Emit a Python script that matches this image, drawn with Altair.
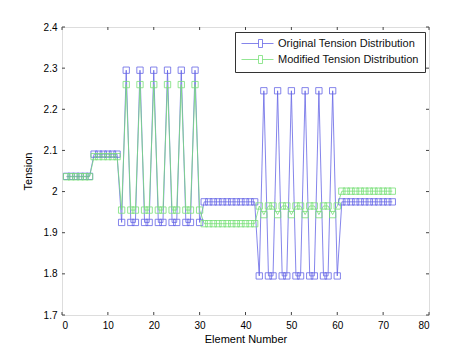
import altair as alt
import pandas as pd

elements = list(range(1, 73))
original = [
    2.037, 2.037, 2.037, 2.037, 2.037, 2.037,
    2.091, 2.091, 2.091, 2.091, 2.091, 2.091,
    1.925, 2.295, 1.925, 1.925, 2.295, 1.925, 1.925, 2.295, 1.925,
    1.925, 2.295, 1.925, 1.925, 2.295, 1.925, 1.925, 2.295, 1.925,
    1.975, 1.975, 1.975, 1.975, 1.975, 1.975, 1.975, 1.975, 1.975, 1.975, 1.975, 1.975,
    1.795, 2.245, 1.795, 1.795, 2.245, 1.795, 1.795, 2.245, 1.795,
    1.795, 2.245, 1.795, 1.795, 2.245, 1.795, 1.795, 2.245, 1.795,
    1.975, 1.975, 1.975, 1.975, 1.975, 1.975, 1.975, 1.975, 1.975, 1.975, 1.975, 1.975,
]
modified = [
    2.036, 2.036, 2.036, 2.036, 2.036, 2.036,
    2.085, 2.085, 2.085, 2.085, 2.085, 2.085,
    1.955, 2.260, 1.955, 1.955, 2.260, 1.955, 1.955, 2.260, 1.955,
    1.955, 2.260, 1.955, 1.955, 2.260, 1.955, 1.955, 2.260, 1.955,
    1.922, 1.922, 1.922, 1.922, 1.922, 1.922, 1.922, 1.922, 1.922, 1.922, 1.922, 1.922,
    1.965, 1.944, 1.965, 1.965, 1.944, 1.965, 1.965, 1.944, 1.965,
    1.965, 1.944, 1.965, 1.965, 1.944, 1.965, 1.965, 1.944, 1.965,
    2.001, 2.001, 2.001, 2.001, 2.001, 2.001, 2.001, 2.001, 2.001, 2.001, 2.001, 2.001,
]
series_names = ["Original Tension Distribution", "Modified Tension Distribution"]
series_colors = ["#6666e6", "#77e077"]
x_ticks = [0, 10, 20, 30, 40, 50, 60, 70, 80]
y_ticks = [1.7, 1.8, 1.9, 2.0, 2.1, 2.2, 2.3, 2.4]

W, H = 367, 288

df = pd.DataFrame({
    "Element": elements * 2,
    "Tension": original + modified,
    "Series": [series_names[0]] * len(elements) + [series_names[1]] * len(elements),
    "order": [0] * len(elements) + [1] * len(elements),
})

xscale = alt.Scale(domain=[0, 80], nice=False)
yscale = alt.Scale(domain=[1.7, 2.4], nice=False, zero=False)

FONT = "Liberation Sans"

# line segment with a hollow square in the middle (unit = 5 px with symbolSize 100)
legend_path = "M-1,0H2.4M3.2,0H5.4M2.4,-0.8H3.2V0.8H2.4Z"

lines = alt.Chart(df).mark_line(
    strokeWidth=0.8,
    point=alt.OverlayMarkDef(shape="square", filled=False, size=40, strokeWidth=0.8),
).encode(
    x=alt.X("Element:Q", scale=xscale,
            axis=alt.Axis(values=x_ticks, title="Element Number", tickSize=0,
                          labelPadding=5, titlePadding=3, grid=False, domain=False,
                          titleFontWeight="normal")),
    y=alt.Y("Tension:Q", scale=yscale,
            axis=alt.Axis(values=y_ticks, title="Tension", tickSize=0,
                          labelPadding=5, titlePadding=10, grid=False, domain=False,
                          titleFontWeight="normal",
                          labelExpr="datum.value == 2 ? '2' : format(datum.value, '.1f')")),
    color=alt.Color("Series:N",
                    scale=alt.Scale(domain=series_names, range=series_colors),
                    legend=alt.Legend(
                        title=None, orient="none", legendX=173, legendY=5,
                        strokeColor="#333", fillColor="white", padding=6,
                        symbolType=legend_path, symbolSize=100,
                        symbolStrokeWidth=0.8, symbolFillColor="transparent",
                        labelFontSize=11, labelFont=FONT, labelColor="#111",
                        rowPadding=3, labelOffset=26,
                    )),
    detail="Series:N",
    order="order:Q",
)

xt = pd.DataFrame({"v": x_ticks})
yt = pd.DataFrame({"v": y_ticks})
tick_color = "#444"
bottom_ticks = alt.Chart(xt).mark_rule(color=tick_color, strokeWidth=1).encode(
    x=alt.X("v:Q", scale=xscale), y=alt.value(H), y2=alt.value(H - 3))
top_ticks = alt.Chart(xt).mark_rule(color=tick_color, strokeWidth=1).encode(
    x=alt.X("v:Q", scale=xscale), y=alt.value(0), y2=alt.value(3))
left_ticks = alt.Chart(yt).mark_rule(color=tick_color, strokeWidth=1).encode(
    y=alt.Y("v:Q", scale=yscale), x=alt.value(0), x2=alt.value(3))
right_ticks = alt.Chart(yt).mark_rule(color=tick_color, strokeWidth=1).encode(
    y=alt.Y("v:Q", scale=yscale), x=alt.value(W), x2=alt.value(W - 3))

chart = alt.layer(lines, bottom_ticks, top_ticks, left_ticks, right_ticks).properties(
    width=W, height=H,
    autosize=alt.AutoSizeParams(type="none"),
    padding={"left": 62, "top": 27, "right": 45, "bottom": 40},
).configure_view(
    stroke="#555", strokeWidth=1
).configure_axis(
    labelFont=FONT, titleFont=FONT, labelFontSize=11, titleFontSize=11,
    labelColor="#111", titleColor="#111", titleFontWeight="normal",
).configure(background="white")

chart.save("out.html", embed_options={"renderer": "svg", "actions": False})
